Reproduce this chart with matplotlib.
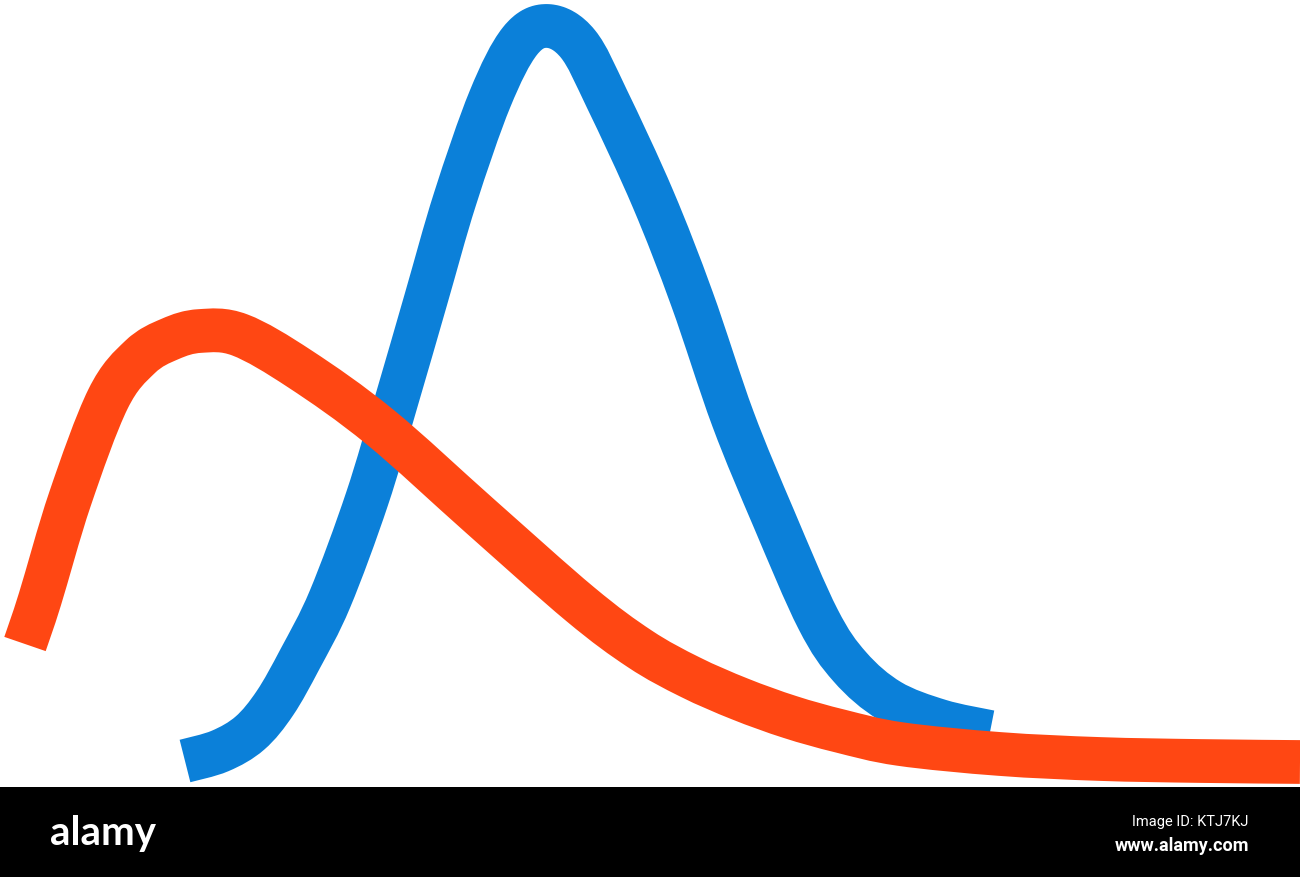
import matplotlib
matplotlib.use("Agg")
import matplotlib.pyplot as plt
import numpy as np
from matplotlib.patches import Rectangle, PathPatch
from matplotlib.path import Path

# Curve values: x position and height above the baseline
blue_x = [185, 220, 250, 275, 300, 330, 367, 397, 426, 455, 490, 520, 548, 578, 607,
          653, 692, 733, 774, 818, 850, 890, 940, 990]
blue_y = [26, 36, 54, 84, 128, 188, 288, 388, 488, 588, 688, 746, 761, 743, 688,
          588, 488, 368, 268, 168, 120, 86, 66, 55]

orange_x = [25, 40, 70, 108, 140, 170, 200, 240, 300, 380, 480, 580, 640, 690, 740,
            790, 840, 900, 1000, 1100, 1200, 1300]
orange_y = [143, 188, 288, 388, 430, 448, 456, 452, 418, 360, 271, 183, 138, 110, 88,
            70, 56, 43, 33, 28, 26, 25]

logo_text = "alamy"
image_id_text = "Image ID: KTJ7KJ"
site_text = "www.alamy.com"


def smooth_path(xs, ys):
    """Catmull-Rom curve through the points, as cubic Bezier path segments."""
    p = np.column_stack([xs, ys]).astype(float)
    verts = [p[0]]
    codes = [Path.MOVETO]
    n = len(p)
    for i in range(n - 1):
        p0 = p[i - 1] if i > 0 else p[i]
        p1, p2 = p[i], p[i + 1]
        p3 = p[i + 2] if i + 2 < n else p[i + 1]
        c1 = p1 + (p2 - p0) / 6.0
        c2 = p2 - (p3 - p1) / 6.0
        verts += [c1, c2, p2]
        codes += [Path.CURVE4] * 3
    return Path(verts, codes)


W, H = 1300, 878
bar_h = 90
fig = plt.figure(figsize=(W / 100, H / 100), dpi=100)
fig.patch.set_facecolor("white")

ax = fig.add_axes([0, bar_h / H, 1, (H - bar_h) / H])
ax.set_xlim(0, W)
ax.set_ylim(0, H - bar_h)
ax.axis("off")

ax.add_patch(PathPatch(smooth_path(blue_x, blue_y), facecolor="none",
                       edgecolor="#0b80d9", lw=31.5, capstyle="butt",
                       joinstyle="round", zorder=2))
ax.add_patch(PathPatch(smooth_path(orange_x, orange_y), facecolor="none",
                       edgecolor="#ff4713", lw=31.5, capstyle="butt",
                       joinstyle="round", zorder=3))

fig.patches.append(Rectangle((0, 0), 1, bar_h / H, transform=fig.transFigure,
                             facecolor="black", edgecolor="none", zorder=0))
fig.text(50 / W, 1 - 834 / H, logo_text, color="white", fontsize=29,
         family=["Lato", "DejaVu Sans"], weight="bold",
         ha="left", va="center")
fig.text(1249 / W, 1 - 822 / H, image_id_text, color="white", fontsize=10.5,
         family=["Roboto", "DejaVu Sans"], ha="right", va="center")
fig.text(1249 / W, 1 - 846 / H, site_text, color="white", fontsize=13,
         family=["Roboto", "DejaVu Sans"], weight="bold",
         ha="right", va="center")

fig.savefig("out.png", dpi=100, facecolor="white")
